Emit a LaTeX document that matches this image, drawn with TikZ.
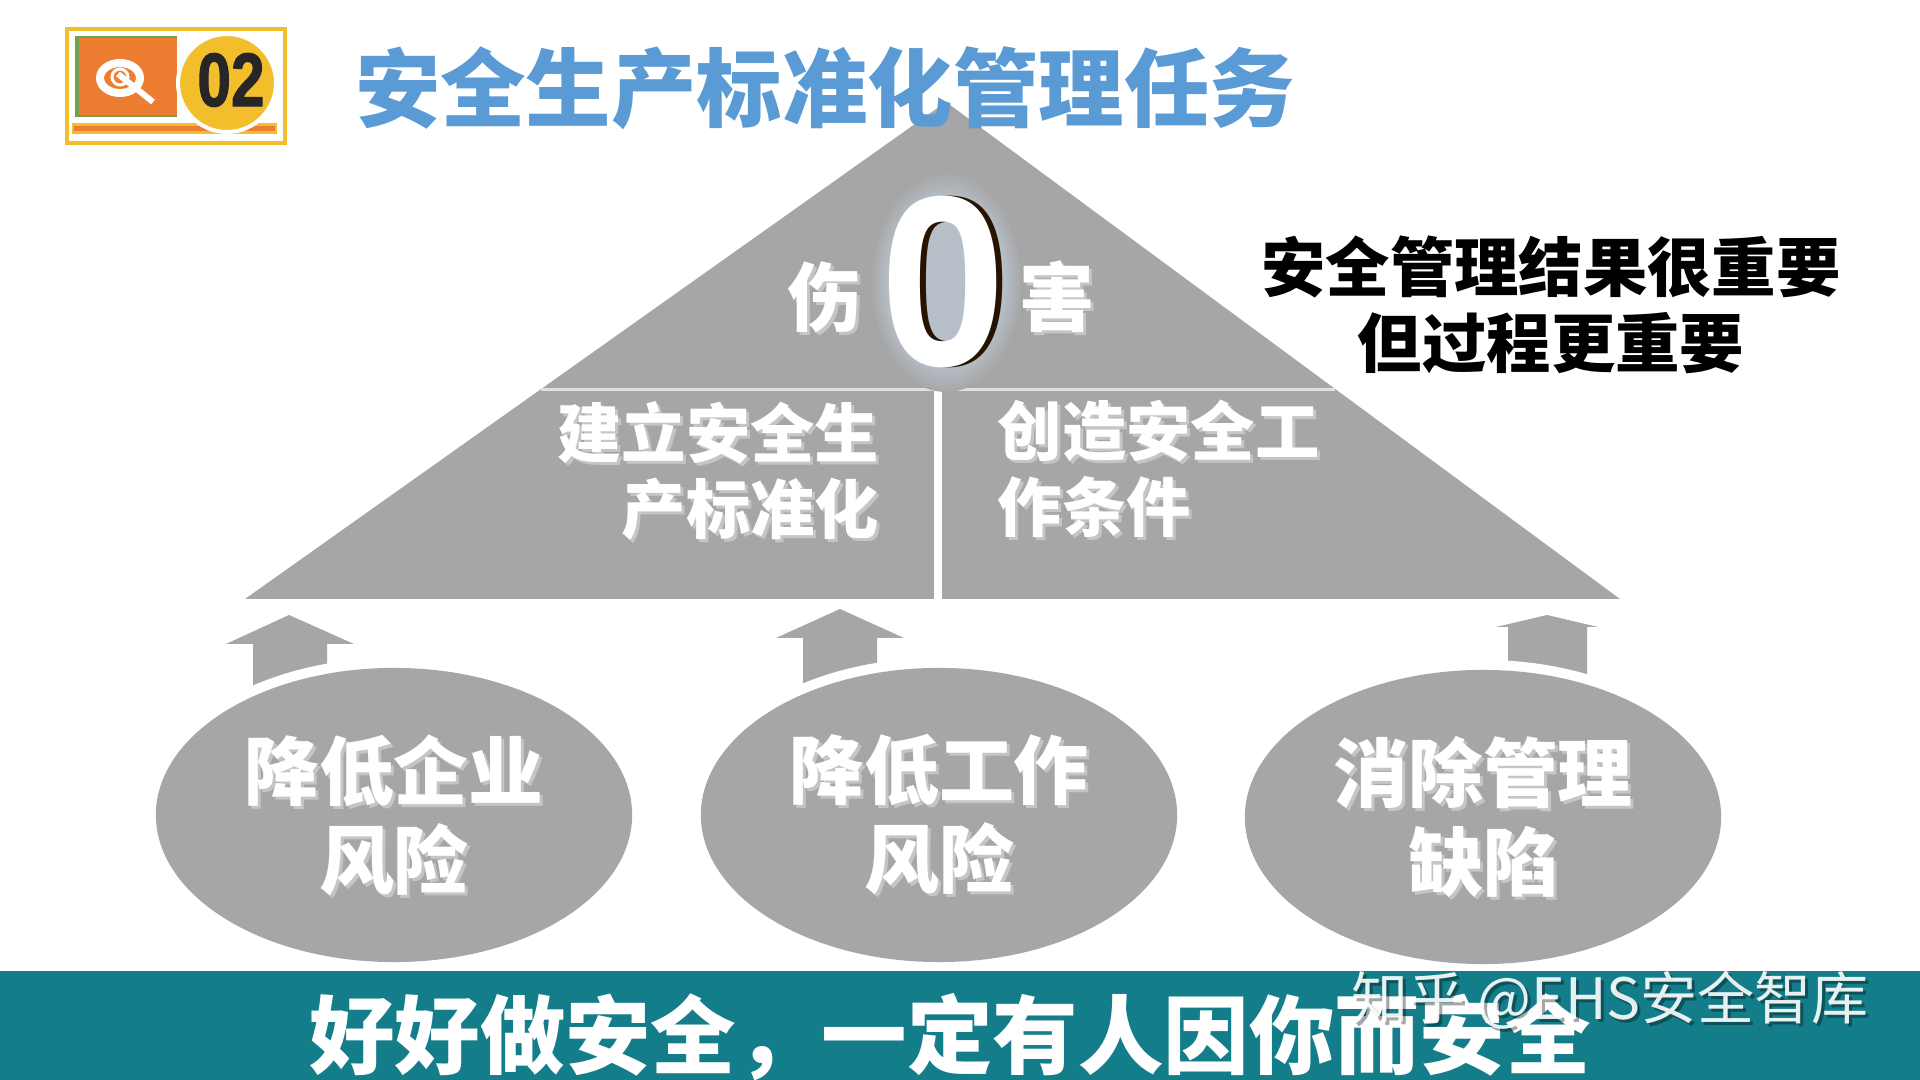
\documentclass[tikz,border=0pt]{standalone}
\usepackage{fontspec}
\usetikzlibrary{shapes.geometric,calc}
\setmainfont{Noto Sans CJK SC}
\newfontfamily\heavyfont{Noto Sans CJK SC Black}
\newfontfamily\numfont{Liberation Sans}
\newfontfamily\badgefont[FakeBold=1.6]{Liberation Sans Bold}
\definecolor{roofgray}{HTML}{A6A6A6}
\definecolor{glowgray}{HTML}{B6BFC8}
\definecolor{bandteal}{HTML}{147D8A}
\definecolor{titleblue}{HTML}{5B9BD5}
\definecolor{logoyellow}{HTML}{F2BE2C}
\definecolor{logoorange}{HTML}{ED7D31}
\definecolor{logogreen}{HTML}{70A050}
\pgfdeclareradialshading{zeroglow}{\pgfpoint{0bp}{0bp}}{color(0bp)=(glowgray); color(19bp)=(glowgray); color(25bp)=(roofgray); color(50bp)=(roofgray)}
\tikzset{
    roofshape/.style={fill=roofgray},
    basenode/.style={ellipse, fill=roofgray, minimum width=4.76cm, minimum height=2.94cm, inner sep=0pt,
        preaction={draw=white, line width=0.2cm}},
    softtext/.style={text=white, font=\heavyfont\fontsize{#1}{#1}\selectfont, align=center, inner sep=0pt},
    zerotext/.style={font=\numfont\bfseries\fontsize{69}{69}\selectfont, inner sep=0pt, xscale=0.93},
}
% soft white lettering: a faint copy below the sharp one
\newcommand{\softnode}[5]{
    \node[softtext=#2, anchor=#3, text opacity=0.35] at ($(#4)+(3,3)$) {#5};
    \node[softtext=#2, anchor=#3] (#1) at (#4) {#5};
}
\begin{document}
\begin{tikzpicture}[x=0.01cm, y=-0.01cm]
    \useasboundingbox (0,0) rectangle (1920,1080);
    \fill[white] (0,0) rectangle (1920,1080);

    % Roof
    \coordinate (apex) at (946,102);
    \coordinate (baseL) at (245,599);
    \coordinate (baseR) at (1620,599);
    \fill[roofshape] (apex) -- (baseR) -- (baseL) -- cycle;
    \draw[white!88!black, line width=0.03cm] (541,390) -- (1335,390);
    \fill[white] (934,390) rectangle (942,602);

    % Arrows
    \coordinate (tipA) at (289,615);
    \coordinate (tipB) at (840,609);
    \coordinate (tipC) at (1547,615);
    \fill[roofshape] (tipA) -- ++(65,29) -- ++(-27,0) -- ++(0,60) -- ++(-74,0) -- ++(0,-60) -- ++(-27,0) -- cycle;
    \fill[roofshape] (tipB) -- ++(64,29) -- ++(-27,0) -- ++(0,60) -- ++(-74,0) -- ++(0,-60) -- ++(-27,0) -- cycle;
    \fill[roofshape] (tipC) -- ++(51,12) -- ++(-11,0) -- ++(0,70) -- ++(-79,0) -- ++(0,-70) -- ++(-12,0) -- cycle;

    % Ellipses
    \node[basenode] (riskA) at (394,815) {};
    \node[basenode] (riskB) at (939,815) {};
    \node[basenode] (riskC) at (1483,817) {};
    \softnode{riskAtext}{21.3}{center}{riskA}{降低企业\\[4pt]风险}
    \softnode{riskBtext}{21.3}{center}{riskB}{降低工作\\[4pt]风险}
    \softnode{riskCtext}{21.3}{center}{riskC}{消除管理\\[4pt]缺陷}

    % Roof texts
    \softnode{leftroof}{18.3}{east}{880,471}{建立安全生\\[3.2pt]\hfill 产标准化}
    \softnode{rightroof}{18.3}{west}{997,469}{创造安全工\\[3.2pt]作条件\hfill\null}
    \softnode{shang}{21.3}{center}{825,297}{伤}
    \softnode{hai}{21.3}{center}{1057,297}{害}

    % Zero
    \shade[shading=zeroglow] (946,282) ellipse (76 and 110);
    \node[zerotext, text=black!85!orange] at (949,282) {0};
    \node[zerotext, text=white] (zero) at (943,282) {0};

    % Side note
    \node[font=\bfseries\fontsize{18.3}{21.5}\selectfont, align=center, inner sep=0pt] (note) at (1551,305) {安全管理结果很重要\\但过程更重要};

    % Title
    \node[text=titleblue, font=\bfseries\fontsize{24.3}{24.3}\selectfont, inner sep=0pt] (title) at (825,88) {安全生产标准化管理任务};

    % Logo
    \draw[logoyellow, line width=0.035cm] (67,29) rectangle (285,143);
    \fill[logogreen] (75,36) rectangle (177,117);
    \fill[logoorange] (79,38) rectangle (177,115);
    \fill[logoyellow] (72,123) rectangle (277,134);
    \fill[logoorange] (74,126) rectangle (275,131);
    \filldraw[fill=logoyellow, draw=white, line width=0.04cm] (227,83) circle (49);
    \node[text=black!85, font=\badgefont\fontsize{21.5}{21.5}\selectfont, inner sep=0pt, xscale=0.8] (num) at (231,80) {02};
    \draw[white, line width=0.08cm] (120,78) ellipse (20 and 15);
    \draw[white, line width=0.03cm] (120,77) circle (8);
    \draw[white, line width=0.06cm] (118,74) -- (153,102);

    % Band
    \fill[bandteal] (0,971) rectangle (1920,1080);
    \node[text=white, font=\bfseries\fontsize{24.3}{24.3}\selectfont, inner sep=0pt] (motto) at (950,1037) {好好做安全，一定有人因你而安全};

    % Watermark
    \node[text=black, text opacity=0.35, font=\fontsize{16.2}{16.2}\selectfont, inner sep=0pt] at (1613,1003) {知乎 @EHS安全智库};
    \node[text=white, text opacity=0.9, font=\fontsize{16.2}{16.2}\selectfont, inner sep=0pt] (mark) at (1610,1000) {知乎 @EHS安全智库};
\end{tikzpicture}
\end{document}
